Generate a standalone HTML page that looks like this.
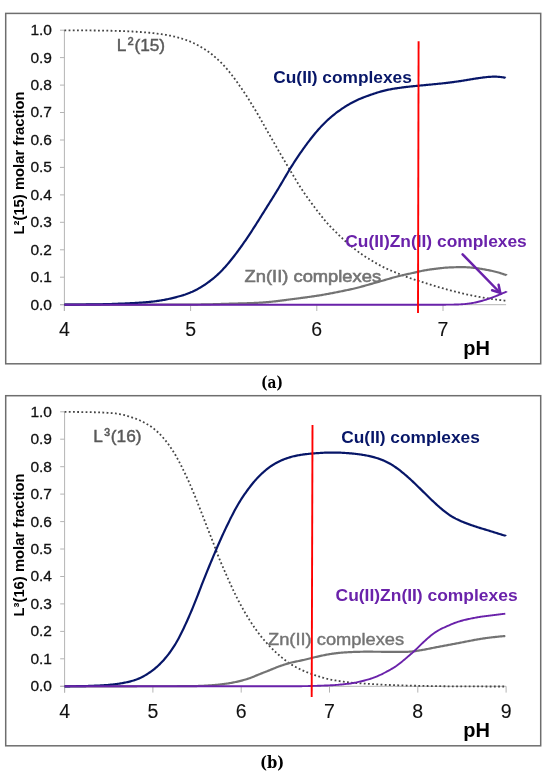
<!DOCTYPE html>
<html><head><meta charset="utf-8"><title>Molar fraction charts</title><style>
html,body{margin:0;padding:0;background:#fff;}
body{width:550px;height:780px;overflow:hidden;}
svg{display:block;}
text{font-family:"Liberation Sans",Arial,sans-serif;}
.yt{font-size:15.5px;fill:#111;stroke:#111;stroke-width:0.3px;}
.xt{font-size:19.5px;fill:#111;stroke:#111;stroke-width:0.1px;}
.lab{font-size:17.1px;font-weight:bold;}
.labm{font-size:16.8px;stroke-width:0.6px;}
.labr{font-size:16.8px;stroke-width:0.4px;}
.lbl{font-size:17.3px;fill:#595959;stroke:#595959;stroke-width:0.45px;}
.sups{font-size:10px;}
.ph{font-size:20px;font-weight:bold;fill:#000;}
.yti{font-size:14.8px;font-weight:bold;fill:#000;}
.cap{font-family:"DejaVu Serif","Liberation Serif",serif;font-size:16.3px;font-weight:bold;fill:#000;}
</style></head>
<body>
<svg width="550" height="780" viewBox="0 0 550 780">
<rect x="5.7" y="13.4" width="535" height="350.4" fill="none" stroke="#6e6e6e" stroke-width="1.5"/>
<rect x="5.7" y="395.7" width="535" height="350.1" fill="none" stroke="#6e6e6e" stroke-width="1.5"/>
<line x1="64.4" y1="30.2" x2="64.4" y2="311.0" stroke="#b4b4b4" stroke-width="1"/>
<line x1="60.0" y1="304.7" x2="506.1" y2="304.7" stroke="#b4b4b4" stroke-width="1"/>
<line x1="60.0" y1="304.7" x2="64.4" y2="304.7" stroke="#b4b4b4" stroke-width="1"/>
<text x="52.0" y="309.6" text-anchor="end" class="yt">0.0</text>
<line x1="60.0" y1="277.2" x2="64.4" y2="277.2" stroke="#b4b4b4" stroke-width="1"/>
<text x="52.0" y="282.1" text-anchor="end" class="yt">0.1</text>
<line x1="60.0" y1="249.8" x2="64.4" y2="249.8" stroke="#b4b4b4" stroke-width="1"/>
<text x="52.0" y="254.7" text-anchor="end" class="yt">0.2</text>
<line x1="60.0" y1="222.3" x2="64.4" y2="222.3" stroke="#b4b4b4" stroke-width="1"/>
<text x="52.0" y="227.2" text-anchor="end" class="yt">0.3</text>
<line x1="60.0" y1="194.9" x2="64.4" y2="194.9" stroke="#b4b4b4" stroke-width="1"/>
<text x="52.0" y="199.8" text-anchor="end" class="yt">0.4</text>
<line x1="60.0" y1="167.4" x2="64.4" y2="167.4" stroke="#b4b4b4" stroke-width="1"/>
<text x="52.0" y="172.3" text-anchor="end" class="yt">0.5</text>
<line x1="60.0" y1="140.0" x2="64.4" y2="140.0" stroke="#b4b4b4" stroke-width="1"/>
<text x="52.0" y="144.9" text-anchor="end" class="yt">0.6</text>
<line x1="60.0" y1="112.5" x2="64.4" y2="112.5" stroke="#b4b4b4" stroke-width="1"/>
<text x="52.0" y="117.4" text-anchor="end" class="yt">0.7</text>
<line x1="60.0" y1="85.1" x2="64.4" y2="85.1" stroke="#b4b4b4" stroke-width="1"/>
<text x="52.0" y="90.0" text-anchor="end" class="yt">0.8</text>
<line x1="60.0" y1="57.6" x2="64.4" y2="57.6" stroke="#b4b4b4" stroke-width="1"/>
<text x="52.0" y="62.5" text-anchor="end" class="yt">0.9</text>
<line x1="60.0" y1="30.2" x2="64.4" y2="30.2" stroke="#b4b4b4" stroke-width="1"/>
<text x="52.0" y="35.1" text-anchor="end" class="yt">1.0</text>
<line x1="64.4" y1="304.7" x2="64.4" y2="311.0" stroke="#b4b4b4" stroke-width="1"/>
<text x="64.4" y="336.0" text-anchor="middle" class="xt">4</text>
<line x1="190.6" y1="304.7" x2="190.6" y2="311.0" stroke="#b4b4b4" stroke-width="1"/>
<text x="190.6" y="336.0" text-anchor="middle" class="xt">5</text>
<line x1="316.8" y1="304.7" x2="316.8" y2="311.0" stroke="#b4b4b4" stroke-width="1"/>
<text x="316.8" y="336.0" text-anchor="middle" class="xt">6</text>
<line x1="443.0" y1="304.7" x2="443.0" y2="311.0" stroke="#b4b4b4" stroke-width="1"/>
<text x="443.0" y="336.0" text-anchor="middle" class="xt">7</text>
<line x1="64.6" y1="411.8" x2="64.6" y2="692.6" stroke="#b4b4b4" stroke-width="1"/>
<line x1="60.2" y1="686.3" x2="506.1" y2="686.3" stroke="#b4b4b4" stroke-width="1"/>
<line x1="60.2" y1="686.3" x2="64.6" y2="686.3" stroke="#b4b4b4" stroke-width="1"/>
<text x="52.0" y="691.2" text-anchor="end" class="yt">0.0</text>
<line x1="60.2" y1="658.8" x2="64.6" y2="658.8" stroke="#b4b4b4" stroke-width="1"/>
<text x="52.0" y="663.7" text-anchor="end" class="yt">0.1</text>
<line x1="60.2" y1="631.4" x2="64.6" y2="631.4" stroke="#b4b4b4" stroke-width="1"/>
<text x="52.0" y="636.3" text-anchor="end" class="yt">0.2</text>
<line x1="60.2" y1="603.9" x2="64.6" y2="603.9" stroke="#b4b4b4" stroke-width="1"/>
<text x="52.0" y="608.8" text-anchor="end" class="yt">0.3</text>
<line x1="60.2" y1="576.5" x2="64.6" y2="576.5" stroke="#b4b4b4" stroke-width="1"/>
<text x="52.0" y="581.4" text-anchor="end" class="yt">0.4</text>
<line x1="60.2" y1="549.0" x2="64.6" y2="549.0" stroke="#b4b4b4" stroke-width="1"/>
<text x="52.0" y="553.9" text-anchor="end" class="yt">0.5</text>
<line x1="60.2" y1="521.6" x2="64.6" y2="521.6" stroke="#b4b4b4" stroke-width="1"/>
<text x="52.0" y="526.5" text-anchor="end" class="yt">0.6</text>
<line x1="60.2" y1="494.1" x2="64.6" y2="494.1" stroke="#b4b4b4" stroke-width="1"/>
<text x="52.0" y="499.0" text-anchor="end" class="yt">0.7</text>
<line x1="60.2" y1="466.7" x2="64.6" y2="466.7" stroke="#b4b4b4" stroke-width="1"/>
<text x="52.0" y="471.6" text-anchor="end" class="yt">0.8</text>
<line x1="60.2" y1="439.2" x2="64.6" y2="439.2" stroke="#b4b4b4" stroke-width="1"/>
<text x="52.0" y="444.1" text-anchor="end" class="yt">0.9</text>
<line x1="60.2" y1="411.8" x2="64.6" y2="411.8" stroke="#b4b4b4" stroke-width="1"/>
<text x="52.0" y="416.7" text-anchor="end" class="yt">1.0</text>
<line x1="64.6" y1="686.3" x2="64.6" y2="692.6" stroke="#b4b4b4" stroke-width="1"/>
<text x="64.6" y="717.7" text-anchor="middle" class="xt">4</text>
<line x1="152.9" y1="686.3" x2="152.9" y2="692.6" stroke="#b4b4b4" stroke-width="1"/>
<text x="152.9" y="717.7" text-anchor="middle" class="xt">5</text>
<line x1="241.2" y1="686.3" x2="241.2" y2="692.6" stroke="#b4b4b4" stroke-width="1"/>
<text x="241.2" y="717.7" text-anchor="middle" class="xt">6</text>
<line x1="329.5" y1="686.3" x2="329.5" y2="692.6" stroke="#b4b4b4" stroke-width="1"/>
<text x="329.5" y="717.7" text-anchor="middle" class="xt">7</text>
<line x1="417.8" y1="686.3" x2="417.8" y2="692.6" stroke="#b4b4b4" stroke-width="1"/>
<text x="417.8" y="717.7" text-anchor="middle" class="xt">8</text>
<line x1="506.1" y1="686.3" x2="506.1" y2="692.6" stroke="#b4b4b4" stroke-width="1"/>
<text x="506.1" y="717.7" text-anchor="middle" class="xt">9</text>
<path d="M64.4,30.40 L65.4,30.40 L66.4,30.40 L67.4,30.40 L68.4,30.40 L69.4,30.40 L70.4,30.41 L71.4,30.41 L72.4,30.41 L73.4,30.41 L74.4,30.41 L75.4,30.42 L76.4,30.42 L77.4,30.42 L78.4,30.42 L79.4,30.43 L80.4,30.43 L81.4,30.43 L82.4,30.44 L83.4,30.44 L84.4,30.45 L85.4,30.45 L86.4,30.45 L87.4,30.46 L88.4,30.46 L89.4,30.47 L90.4,30.47 L91.4,30.48 L92.4,30.48 L93.4,30.49 L94.4,30.50 L95.4,30.50 L96.4,30.51 L97.4,30.52 L98.4,30.53 L99.4,30.54 L100.4,30.55 L101.4,30.57 L102.4,30.58 L103.4,30.60 L104.4,30.62 L105.4,30.64 L106.4,30.66 L107.4,30.68 L108.4,30.70 L109.4,30.72 L110.4,30.75 L111.4,30.77 L112.4,30.79 L113.4,30.82 L114.4,30.84 L115.4,30.87 L116.4,30.89 L117.4,30.92 L118.4,30.95 L119.4,30.98 L120.4,31.00 L121.4,31.04 L122.4,31.07 L123.4,31.10 L124.4,31.14 L125.4,31.17 L126.4,31.21 L127.4,31.25 L128.4,31.29 L129.4,31.34 L130.4,31.38 L131.4,31.43 L132.4,31.49 L133.4,31.54 L134.4,31.60 L135.4,31.66 L136.4,31.73 L137.4,31.79 L138.4,31.86 L139.4,31.94 L140.4,32.01 L141.4,32.08 L142.4,32.16 L143.4,32.23 L144.4,32.31 L145.4,32.39 L146.4,32.47 L147.4,32.55 L148.4,32.64 L149.4,32.73 L150.4,32.83 L151.4,32.93 L152.4,33.04 L153.4,33.15 L154.4,33.27 L155.4,33.39 L156.4,33.51 L157.4,33.64 L158.4,33.77 L159.4,33.90 L160.4,34.03 L161.4,34.17 L162.4,34.31 L163.4,34.47 L164.4,34.63 L165.4,34.80 L166.4,34.97 L167.4,35.15 L168.4,35.33 L169.4,35.52 L170.4,35.71 L171.4,35.90 L172.4,36.11 L173.4,36.32 L174.4,36.55 L175.4,36.80 L176.4,37.05 L177.4,37.32 L178.4,37.60 L179.4,37.89 L180.4,38.18 L181.4,38.48 L182.4,38.79 L183.4,39.10 L184.4,39.43 L185.4,39.76 L186.4,40.11 L187.4,40.47 L188.4,40.84 L189.4,41.23 L190.4,41.64 L191.4,42.06 L192.4,42.50 L193.4,42.97 L194.4,43.45 L195.4,43.96 L196.4,44.48 L197.4,45.02 L198.4,45.57 L199.4,46.13 L200.4,46.70 L201.4,47.29 L202.4,47.88 L203.4,48.48 L204.4,49.10 L205.4,49.73 L206.4,50.38 L207.4,51.05 L208.4,51.74 L209.4,52.45 L210.4,53.20 L211.4,53.98 L212.4,54.78 L213.4,55.61 L214.4,56.47 L215.4,57.34 L216.4,58.23 L217.4,59.14 L218.4,60.06 L219.4,61.00 L220.4,61.96 L221.4,62.95 L222.4,63.96 L223.4,65.00 L224.4,66.08 L225.4,67.19 L226.4,68.34 L227.4,69.51 L228.4,70.72 L229.4,71.95 L230.4,73.20 L231.4,74.48 L232.4,75.77 L233.4,77.08 L234.4,78.41 L235.4,79.77 L236.4,81.16 L237.4,82.57 L238.4,84.00 L239.4,85.45 L240.4,86.90 L241.4,88.35 L242.4,89.79 L243.4,91.23 L244.4,92.69 L245.4,94.17 L246.4,95.69 L247.4,97.24 L248.4,98.83 L249.4,100.45 L250.4,102.08 L251.4,103.72 L252.4,105.35 L253.4,106.98 L254.4,108.61 L255.4,110.25 L256.4,111.90 L257.4,113.58 L258.4,115.29 L259.4,117.03 L260.4,118.79 L261.4,120.58 L262.4,122.37 L263.4,124.17 L264.4,125.96 L265.4,127.74 L266.4,129.50 L267.4,131.24 L268.4,132.97 L269.4,134.69 L270.4,136.40 L271.4,138.13 L272.4,139.85 L273.4,141.59 L274.4,143.33 L275.4,145.08 L276.4,146.83 L277.4,148.58 L278.4,150.34 L279.4,152.09 L280.4,153.83 L281.4,155.55 L282.4,157.27 L283.4,158.97 L284.4,160.66 L285.4,162.34 L286.4,164.02 L287.4,165.69 L288.4,167.37 L289.4,169.05 L290.4,170.73 L291.4,172.42 L292.4,174.12 L293.4,175.80 L294.4,177.49 L295.4,179.16 L296.4,180.81 L297.4,182.44 L298.4,184.06 L299.4,185.65 L300.4,187.21 L301.4,188.76 L302.4,190.27 L303.4,191.77 L304.4,193.25 L305.4,194.70 L306.4,196.14 L307.4,197.56 L308.4,198.96 L309.4,200.34 L310.4,201.71 L311.4,203.06 L312.4,204.40 L313.4,205.73 L314.4,207.05 L315.4,208.36 L316.4,209.66 L317.4,210.96 L318.4,212.26 L319.4,213.55 L320.4,214.83 L321.4,216.11 L322.4,217.37 L323.4,218.61 L324.4,219.84 L325.4,221.04 L326.4,222.21 L327.4,223.35 L328.4,224.46 L329.4,225.55 L330.4,226.60 L331.4,227.63 L332.4,228.64 L333.4,229.64 L334.4,230.62 L335.4,231.60 L336.4,232.58 L337.4,233.56 L338.4,234.54 L339.4,235.52 L340.4,236.50 L341.4,237.47 L342.4,238.43 L343.4,239.38 L344.4,240.31 L345.4,241.22 L346.4,242.12 L347.4,243.00 L348.4,243.87 L349.4,244.72 L350.4,245.56 L351.4,246.39 L352.4,247.21 L353.4,248.02 L354.4,248.82 L355.4,249.60 L356.4,250.38 L357.4,251.14 L358.4,251.89 L359.4,252.62 L360.4,253.34 L361.4,254.04 L362.4,254.72 L363.4,255.39 L364.4,256.05 L365.4,256.69 L366.4,257.32 L367.4,257.95 L368.4,258.57 L369.4,259.18 L370.4,259.79 L371.4,260.40 L372.4,261.01 L373.4,261.60 L374.4,262.20 L375.4,262.78 L376.4,263.36 L377.4,263.93 L378.4,264.49 L379.4,265.05 L380.4,265.59 L381.4,266.12 L382.4,266.63 L383.4,267.14 L384.4,267.63 L385.4,268.11 L386.4,268.58 L387.4,269.04 L388.4,269.48 L389.4,269.92 L390.4,270.35 L391.4,270.77 L392.4,271.19 L393.4,271.59 L394.4,272.00 L395.4,272.40 L396.4,272.80 L397.4,273.20 L398.4,273.60 L399.4,274.01 L400.4,274.42 L401.4,274.82 L402.4,275.23 L403.4,275.63 L404.4,276.03 L405.4,276.42 L406.4,276.81 L407.4,277.19 L408.4,277.56 L409.4,277.92 L410.4,278.27 L411.4,278.62 L412.4,278.96 L413.4,279.29 L414.4,279.62 L415.4,279.94 L416.4,280.25 L417.4,280.56 L418.4,280.88 L419.4,281.19 L420.4,281.50 L421.4,281.81 L422.4,282.12 L423.4,282.44 L424.4,282.75 L425.4,283.06 L426.4,283.38 L427.4,283.69 L428.4,284.00 L429.4,284.31 L430.4,284.61 L431.4,284.92 L432.4,285.22 L433.4,285.53 L434.4,285.83 L435.4,286.13 L436.4,286.43 L437.4,286.73 L438.4,287.03 L439.4,287.33 L440.4,287.62 L441.4,287.92 L442.4,288.21 L443.4,288.49 L444.4,288.78 L445.4,289.06 L446.4,289.34 L447.4,289.62 L448.4,289.89 L449.4,290.16 L450.4,290.42 L451.4,290.69 L452.4,290.95 L453.4,291.20 L454.4,291.46 L455.4,291.71 L456.4,291.96 L457.4,292.21 L458.4,292.45 L459.4,292.69 L460.4,292.93 L461.4,293.17 L462.4,293.40 L463.4,293.63 L464.4,293.86 L465.4,294.08 L466.4,294.30 L467.4,294.52 L468.4,294.74 L469.4,294.95 L470.4,295.17 L471.4,295.38 L472.4,295.59 L473.4,295.79 L474.4,296.00 L475.4,296.20 L476.4,296.40 L477.4,296.59 L478.4,296.78 L479.4,296.97 L480.4,297.15 L481.4,297.32 L482.4,297.50 L483.4,297.67 L484.4,297.83 L485.4,298.00 L486.4,298.15 L487.4,298.31 L488.4,298.46 L489.4,298.62 L490.4,298.77 L491.4,298.91 L492.4,299.06 L493.4,299.20 L494.4,299.34 L495.4,299.47 L496.4,299.61 L497.4,299.74 L498.4,299.87 L499.4,299.99 L500.4,300.11 L501.4,300.23 L502.4,300.34 L503.4,300.44 L504.4,300.54 L505.4,300.63 L506.4,300.72 L506.5,300.80" fill="none" stroke="#454545" stroke-width="1.8" stroke-linejoin="round" stroke-dasharray="1.8 2.4"/>
<path d="M64.4,304.70 L65.4,304.70 L66.4,304.70 L67.4,304.70 L68.4,304.70 L69.4,304.70 L70.4,304.70 L71.4,304.70 L72.4,304.70 L73.4,304.70 L74.4,304.70 L75.4,304.70 L76.4,304.70 L77.4,304.70 L78.4,304.70 L79.4,304.70 L80.4,304.70 L81.4,304.70 L82.4,304.70 L83.4,304.70 L84.4,304.70 L85.4,304.70 L86.4,304.70 L87.4,304.70 L88.4,304.70 L89.4,304.70 L90.4,304.70 L91.4,304.70 L92.4,304.70 L93.4,304.70 L94.4,304.70 L95.4,304.70 L96.4,304.70 L97.4,304.70 L98.4,304.70 L99.4,304.70 L100.4,304.70 L101.4,304.70 L102.4,304.70 L103.4,304.70 L104.4,304.70 L105.4,304.70 L106.4,304.70 L107.4,304.70 L108.4,304.70 L109.4,304.70 L110.4,304.70 L111.4,304.70 L112.4,304.70 L113.4,304.70 L114.4,304.70 L115.4,304.70 L116.4,304.70 L117.4,304.70 L118.4,304.70 L119.4,304.70 L120.4,304.70 L121.4,304.70 L122.4,304.70 L123.4,304.70 L124.4,304.70 L125.4,304.70 L126.4,304.70 L127.4,304.70 L128.4,304.70 L129.4,304.70 L130.4,304.70 L131.4,304.70 L132.4,304.70 L133.4,304.70 L134.4,304.70 L135.4,304.70 L136.4,304.70 L137.4,304.70 L138.4,304.70 L139.4,304.70 L140.4,304.70 L141.4,304.70 L142.4,304.70 L143.4,304.70 L144.4,304.70 L145.4,304.70 L146.4,304.70 L147.4,304.70 L148.4,304.70 L149.4,304.70 L150.4,304.70 L151.4,304.70 L152.4,304.70 L153.4,304.70 L154.4,304.70 L155.4,304.70 L156.4,304.70 L157.4,304.70 L158.4,304.70 L159.4,304.70 L160.4,304.70 L161.4,304.70 L162.4,304.70 L163.4,304.70 L164.4,304.70 L165.4,304.70 L166.4,304.70 L167.4,304.70 L168.4,304.70 L169.4,304.70 L170.4,304.70 L171.4,304.70 L172.4,304.70 L173.4,304.70 L174.4,304.70 L175.4,304.70 L176.4,304.70 L177.4,304.70 L178.4,304.70 L179.4,304.70 L180.4,304.70 L181.4,304.69 L182.4,304.69 L183.4,304.69 L184.4,304.68 L185.4,304.67 L186.4,304.67 L187.4,304.66 L188.4,304.65 L189.4,304.64 L190.4,304.63 L191.4,304.62 L192.4,304.60 L193.4,304.59 L194.4,304.58 L195.4,304.56 L196.4,304.55 L197.4,304.54 L198.4,304.52 L199.4,304.51 L200.4,304.49 L201.4,304.47 L202.4,304.46 L203.4,304.44 L204.4,304.42 L205.4,304.40 L206.4,304.38 L207.4,304.35 L208.4,304.33 L209.4,304.31 L210.4,304.28 L211.4,304.26 L212.4,304.23 L213.4,304.20 L214.4,304.17 L215.4,304.14 L216.4,304.12 L217.4,304.09 L218.4,304.06 L219.4,304.03 L220.4,303.99 L221.4,303.96 L222.4,303.93 L223.4,303.90 L224.4,303.87 L225.4,303.84 L226.4,303.81 L227.4,303.78 L228.4,303.75 L229.4,303.72 L230.4,303.69 L231.4,303.66 L232.4,303.63 L233.4,303.60 L234.4,303.58 L235.4,303.55 L236.4,303.52 L237.4,303.49 L238.4,303.47 L239.4,303.44 L240.4,303.41 L241.4,303.38 L242.4,303.35 L243.4,303.33 L244.4,303.30 L245.4,303.27 L246.4,303.23 L247.4,303.20 L248.4,303.17 L249.4,303.14 L250.4,303.10 L251.4,303.07 L252.4,303.03 L253.4,302.99 L254.4,302.95 L255.4,302.91 L256.4,302.86 L257.4,302.82 L258.4,302.77 L259.4,302.71 L260.4,302.66 L261.4,302.60 L262.4,302.53 L263.4,302.46 L264.4,302.38 L265.4,302.30 L266.4,302.21 L267.4,302.12 L268.4,302.03 L269.4,301.93 L270.4,301.83 L271.4,301.73 L272.4,301.63 L273.4,301.52 L274.4,301.41 L275.4,301.30 L276.4,301.19 L277.4,301.07 L278.4,300.95 L279.4,300.83 L280.4,300.70 L281.4,300.57 L282.4,300.44 L283.4,300.31 L284.4,300.18 L285.4,300.04 L286.4,299.91 L287.4,299.77 L288.4,299.64 L289.4,299.50 L290.4,299.37 L291.4,299.24 L292.4,299.11 L293.4,298.98 L294.4,298.86 L295.4,298.73 L296.4,298.60 L297.4,298.47 L298.4,298.35 L299.4,298.22 L300.4,298.09 L301.4,297.96 L302.4,297.83 L303.4,297.70 L304.4,297.56 L305.4,297.43 L306.4,297.29 L307.4,297.16 L308.4,297.02 L309.4,296.88 L310.4,296.73 L311.4,296.59 L312.4,296.45 L313.4,296.30 L314.4,296.15 L315.4,296.00 L316.4,295.85 L317.4,295.69 L318.4,295.54 L319.4,295.38 L320.4,295.22 L321.4,295.05 L322.4,294.89 L323.4,294.71 L324.4,294.54 L325.4,294.36 L326.4,294.19 L327.4,294.00 L328.4,293.82 L329.4,293.63 L330.4,293.44 L331.4,293.25 L332.4,293.06 L333.4,292.86 L334.4,292.67 L335.4,292.47 L336.4,292.27 L337.4,292.07 L338.4,291.87 L339.4,291.67 L340.4,291.46 L341.4,291.25 L342.4,291.05 L343.4,290.84 L344.4,290.63 L345.4,290.42 L346.4,290.22 L347.4,290.01 L348.4,289.80 L349.4,289.59 L350.4,289.38 L351.4,289.17 L352.4,288.95 L353.4,288.72 L354.4,288.49 L355.4,288.25 L356.4,288.00 L357.4,287.75 L358.4,287.49 L359.4,287.22 L360.4,286.95 L361.4,286.68 L362.4,286.40 L363.4,286.12 L364.4,285.83 L365.4,285.55 L366.4,285.27 L367.4,284.98 L368.4,284.70 L369.4,284.42 L370.4,284.14 L371.4,283.86 L372.4,283.57 L373.4,283.29 L374.4,283.01 L375.4,282.73 L376.4,282.45 L377.4,282.16 L378.4,281.88 L379.4,281.59 L380.4,281.31 L381.4,281.02 L382.4,280.74 L383.4,280.45 L384.4,280.16 L385.4,279.87 L386.4,279.57 L387.4,279.28 L388.4,278.98 L389.4,278.69 L390.4,278.39 L391.4,278.10 L392.4,277.81 L393.4,277.52 L394.4,277.24 L395.4,276.97 L396.4,276.70 L397.4,276.44 L398.4,276.19 L399.4,275.94 L400.4,275.70 L401.4,275.46 L402.4,275.24 L403.4,275.01 L404.4,274.79 L405.4,274.57 L406.4,274.36 L407.4,274.14 L408.4,273.93 L409.4,273.71 L410.4,273.49 L411.4,273.27 L412.4,273.05 L413.4,272.82 L414.4,272.59 L415.4,272.35 L416.4,272.12 L417.4,271.88 L418.4,271.65 L419.4,271.42 L420.4,271.20 L421.4,270.99 L422.4,270.78 L423.4,270.59 L424.4,270.40 L425.4,270.23 L426.4,270.06 L427.4,269.90 L428.4,269.75 L429.4,269.61 L430.4,269.46 L431.4,269.33 L432.4,269.19 L433.4,269.06 L434.4,268.93 L435.4,268.80 L436.4,268.67 L437.4,268.55 L438.4,268.42 L439.4,268.30 L440.4,268.19 L441.4,268.07 L442.4,267.97 L443.4,267.87 L444.4,267.77 L445.4,267.69 L446.4,267.61 L447.4,267.55 L448.4,267.49 L449.4,267.43 L450.4,267.39 L451.4,267.35 L452.4,267.31 L453.4,267.28 L454.4,267.25 L455.4,267.23 L456.4,267.20 L457.4,267.18 L458.4,267.16 L459.4,267.15 L460.4,267.14 L461.4,267.13 L462.4,267.14 L463.4,267.15 L464.4,267.17 L465.4,267.20 L466.4,267.24 L467.4,267.29 L468.4,267.36 L469.4,267.43 L470.4,267.52 L471.4,267.61 L472.4,267.70 L473.4,267.81 L474.4,267.92 L475.4,268.03 L476.4,268.15 L477.4,268.28 L478.4,268.42 L479.4,268.57 L480.4,268.73 L481.4,268.89 L482.4,269.06 L483.4,269.24 L484.4,269.42 L485.4,269.61 L486.4,269.80 L487.4,269.99 L488.4,270.18 L489.4,270.38 L490.4,270.59 L491.4,270.79 L492.4,271.01 L493.4,271.23 L494.4,271.47 L495.4,271.71 L496.4,271.97 L497.4,272.24 L498.4,272.52 L499.4,272.82 L500.4,273.14 L501.4,273.47 L502.4,273.80 L503.4,274.14 L504.4,274.47 L505.4,274.79 L506.4,275.10 L506.5,275.40" fill="none" stroke="#737373" stroke-width="2.2" stroke-linejoin="round"/>
<path d="M64.4,304.60 L65.4,304.60 L66.4,304.60 L67.4,304.59 L68.4,304.59 L69.4,304.59 L70.4,304.58 L71.4,304.58 L72.4,304.58 L73.4,304.57 L74.4,304.57 L75.4,304.56 L76.4,304.55 L77.4,304.55 L78.4,304.54 L79.4,304.53 L80.4,304.52 L81.4,304.52 L82.4,304.51 L83.4,304.50 L84.4,304.49 L85.4,304.48 L86.4,304.47 L87.4,304.46 L88.4,304.45 L89.4,304.44 L90.4,304.42 L91.4,304.41 L92.4,304.40 L93.4,304.39 L94.4,304.37 L95.4,304.36 L96.4,304.34 L97.4,304.33 L98.4,304.31 L99.4,304.30 L100.4,304.28 L101.4,304.26 L102.4,304.24 L103.4,304.21 L104.4,304.19 L105.4,304.16 L106.4,304.13 L107.4,304.11 L108.4,304.07 L109.4,304.04 L110.4,304.01 L111.4,303.98 L112.4,303.94 L113.4,303.91 L114.4,303.87 L115.4,303.83 L116.4,303.80 L117.4,303.76 L118.4,303.72 L119.4,303.68 L120.4,303.64 L121.4,303.60 L122.4,303.56 L123.4,303.52 L124.4,303.48 L125.4,303.44 L126.4,303.39 L127.4,303.35 L128.4,303.30 L129.4,303.25 L130.4,303.20 L131.4,303.15 L132.4,303.10 L133.4,303.05 L134.4,303.00 L135.4,302.94 L136.4,302.88 L137.4,302.83 L138.4,302.77 L139.4,302.70 L140.4,302.64 L141.4,302.57 L142.4,302.50 L143.4,302.43 L144.4,302.35 L145.4,302.28 L146.4,302.19 L147.4,302.11 L148.4,302.02 L149.4,301.92 L150.4,301.82 L151.4,301.71 L152.4,301.60 L153.4,301.49 L154.4,301.36 L155.4,301.24 L156.4,301.10 L157.4,300.96 L158.4,300.82 L159.4,300.67 L160.4,300.51 L161.4,300.35 L162.4,300.18 L163.4,300.00 L164.4,299.82 L165.4,299.63 L166.4,299.43 L167.4,299.23 L168.4,299.01 L169.4,298.79 L170.4,298.56 L171.4,298.33 L172.4,298.08 L173.4,297.84 L174.4,297.58 L175.4,297.33 L176.4,297.07 L177.4,296.81 L178.4,296.54 L179.4,296.27 L180.4,295.99 L181.4,295.71 L182.4,295.41 L183.4,295.11 L184.4,294.78 L185.4,294.45 L186.4,294.09 L187.4,293.72 L188.4,293.34 L189.4,292.94 L190.4,292.52 L191.4,292.08 L192.4,291.64 L193.4,291.17 L194.4,290.69 L195.4,290.20 L196.4,289.69 L197.4,289.17 L198.4,288.62 L199.4,288.06 L200.4,287.49 L201.4,286.89 L202.4,286.28 L203.4,285.65 L204.4,285.00 L205.4,284.33 L206.4,283.65 L207.4,282.95 L208.4,282.23 L209.4,281.50 L210.4,280.74 L211.4,279.97 L212.4,279.17 L213.4,278.36 L214.4,277.52 L215.4,276.65 L216.4,275.77 L217.4,274.86 L218.4,273.92 L219.4,272.97 L220.4,271.98 L221.4,270.97 L222.4,269.93 L223.4,268.87 L224.4,267.78 L225.4,266.67 L226.4,265.53 L227.4,264.37 L228.4,263.19 L229.4,261.99 L230.4,260.77 L231.4,259.53 L232.4,258.28 L233.4,257.00 L234.4,255.71 L235.4,254.41 L236.4,253.08 L237.4,251.74 L238.4,250.39 L239.4,249.02 L240.4,247.63 L241.4,246.24 L242.4,244.82 L243.4,243.40 L244.4,241.96 L245.4,240.51 L246.4,239.05 L247.4,237.57 L248.4,236.08 L249.4,234.58 L250.4,233.06 L251.4,231.54 L252.4,230.00 L253.4,228.45 L254.4,226.89 L255.4,225.32 L256.4,223.75 L257.4,222.16 L258.4,220.57 L259.4,218.97 L260.4,217.37 L261.4,215.77 L262.4,214.17 L263.4,212.57 L264.4,210.97 L265.4,209.38 L266.4,207.79 L267.4,206.19 L268.4,204.61 L269.4,203.02 L270.4,201.43 L271.4,199.84 L272.4,198.24 L273.4,196.64 L274.4,195.03 L275.4,193.41 L276.4,191.77 L277.4,190.12 L278.4,188.46 L279.4,186.78 L280.4,185.09 L281.4,183.39 L282.4,181.69 L283.4,179.98 L284.4,178.27 L285.4,176.57 L286.4,174.88 L287.4,173.20 L288.4,171.54 L289.4,169.89 L290.4,168.26 L291.4,166.65 L292.4,165.06 L293.4,163.49 L294.4,161.94 L295.4,160.41 L296.4,158.89 L297.4,157.38 L298.4,155.90 L299.4,154.43 L300.4,152.97 L301.4,151.53 L302.4,150.11 L303.4,148.69 L304.4,147.30 L305.4,145.92 L306.4,144.55 L307.4,143.21 L308.4,141.87 L309.4,140.56 L310.4,139.26 L311.4,137.98 L312.4,136.72 L313.4,135.48 L314.4,134.26 L315.4,133.06 L316.4,131.88 L317.4,130.72 L318.4,129.59 L319.4,128.47 L320.4,127.38 L321.4,126.31 L322.4,125.25 L323.4,124.22 L324.4,123.21 L325.4,122.22 L326.4,121.25 L327.4,120.31 L328.4,119.38 L329.4,118.48 L330.4,117.60 L331.4,116.74 L332.4,115.90 L333.4,115.09 L334.4,114.28 L335.4,113.50 L336.4,112.73 L337.4,111.98 L338.4,111.25 L339.4,110.53 L340.4,109.82 L341.4,109.13 L342.4,108.46 L343.4,107.80 L344.4,107.15 L345.4,106.52 L346.4,105.91 L347.4,105.31 L348.4,104.72 L349.4,104.15 L350.4,103.58 L351.4,103.04 L352.4,102.50 L353.4,101.98 L354.4,101.47 L355.4,100.97 L356.4,100.49 L357.4,100.02 L358.4,99.57 L359.4,99.12 L360.4,98.69 L361.4,98.28 L362.4,97.87 L363.4,97.47 L364.4,97.09 L365.4,96.71 L366.4,96.34 L367.4,95.97 L368.4,95.61 L369.4,95.26 L370.4,94.91 L371.4,94.56 L372.4,94.22 L373.4,93.88 L374.4,93.54 L375.4,93.21 L376.4,92.89 L377.4,92.57 L378.4,92.26 L379.4,91.95 L380.4,91.66 L381.4,91.38 L382.4,91.11 L383.4,90.84 L384.4,90.59 L385.4,90.36 L386.4,90.13 L387.4,89.91 L388.4,89.70 L389.4,89.50 L390.4,89.31 L391.4,89.13 L392.4,88.95 L393.4,88.78 L394.4,88.61 L395.4,88.45 L396.4,88.30 L397.4,88.15 L398.4,88.00 L399.4,87.86 L400.4,87.72 L401.4,87.58 L402.4,87.45 L403.4,87.33 L404.4,87.20 L405.4,87.08 L406.4,86.96 L407.4,86.85 L408.4,86.74 L409.4,86.63 L410.4,86.52 L411.4,86.42 L412.4,86.31 L413.4,86.21 L414.4,86.11 L415.4,86.01 L416.4,85.92 L417.4,85.82 L418.4,85.72 L419.4,85.63 L420.4,85.53 L421.4,85.43 L422.4,85.34 L423.4,85.24 L424.4,85.15 L425.4,85.05 L426.4,84.96 L427.4,84.86 L428.4,84.76 L429.4,84.67 L430.4,84.57 L431.4,84.47 L432.4,84.38 L433.4,84.28 L434.4,84.18 L435.4,84.08 L436.4,83.98 L437.4,83.88 L438.4,83.78 L439.4,83.68 L440.4,83.58 L441.4,83.47 L442.4,83.37 L443.4,83.26 L444.4,83.15 L445.4,83.04 L446.4,82.92 L447.4,82.81 L448.4,82.69 L449.4,82.56 L450.4,82.44 L451.4,82.31 L452.4,82.18 L453.4,82.05 L454.4,81.91 L455.4,81.78 L456.4,81.64 L457.4,81.49 L458.4,81.35 L459.4,81.20 L460.4,81.05 L461.4,80.89 L462.4,80.74 L463.4,80.58 L464.4,80.42 L465.4,80.26 L466.4,80.10 L467.4,79.93 L468.4,79.77 L469.4,79.60 L470.4,79.43 L471.4,79.27 L472.4,79.10 L473.4,78.94 L474.4,78.78 L475.4,78.62 L476.4,78.46 L477.4,78.30 L478.4,78.15 L479.4,78.00 L480.4,77.86 L481.4,77.72 L482.4,77.59 L483.4,77.46 L484.4,77.34 L485.4,77.22 L486.4,77.11 L487.4,77.02 L488.4,76.93 L489.4,76.85 L490.4,76.78 L491.4,76.73 L492.4,76.69 L493.4,76.66 L494.4,76.65 L495.4,76.66 L496.4,76.69 L497.4,76.74 L498.4,76.80 L499.4,76.88 L500.4,76.99 L501.4,77.11 L502.4,77.25 L503.4,77.40 L504.4,77.56 L505.4,77.73 L505.6,77.90" fill="none" stroke="#071668" stroke-width="2.2" stroke-linejoin="round"/>
<path d="M64.4,304.70 L65.4,304.70 L66.4,304.70 L67.4,304.70 L68.4,304.70 L69.4,304.70 L70.4,304.70 L71.4,304.70 L72.4,304.70 L73.4,304.70 L74.4,304.70 L75.4,304.70 L76.4,304.70 L77.4,304.70 L78.4,304.70 L79.4,304.70 L80.4,304.70 L81.4,304.70 L82.4,304.70 L83.4,304.70 L84.4,304.70 L85.4,304.70 L86.4,304.70 L87.4,304.70 L88.4,304.70 L89.4,304.70 L90.4,304.70 L91.4,304.70 L92.4,304.70 L93.4,304.70 L94.4,304.70 L95.4,304.70 L96.4,304.70 L97.4,304.70 L98.4,304.70 L99.4,304.70 L100.4,304.70 L101.4,304.70 L102.4,304.70 L103.4,304.70 L104.4,304.70 L105.4,304.70 L106.4,304.70 L107.4,304.70 L108.4,304.70 L109.4,304.70 L110.4,304.70 L111.4,304.70 L112.4,304.70 L113.4,304.70 L114.4,304.70 L115.4,304.70 L116.4,304.70 L117.4,304.70 L118.4,304.70 L119.4,304.70 L120.4,304.70 L121.4,304.70 L122.4,304.70 L123.4,304.70 L124.4,304.70 L125.4,304.70 L126.4,304.70 L127.4,304.70 L128.4,304.70 L129.4,304.70 L130.4,304.70 L131.4,304.70 L132.4,304.70 L133.4,304.70 L134.4,304.70 L135.4,304.70 L136.4,304.70 L137.4,304.70 L138.4,304.70 L139.4,304.70 L140.4,304.70 L141.4,304.70 L142.4,304.70 L143.4,304.70 L144.4,304.70 L145.4,304.70 L146.4,304.70 L147.4,304.70 L148.4,304.70 L149.4,304.70 L150.4,304.70 L151.4,304.70 L152.4,304.70 L153.4,304.70 L154.4,304.70 L155.4,304.70 L156.4,304.70 L157.4,304.70 L158.4,304.70 L159.4,304.70 L160.4,304.70 L161.4,304.70 L162.4,304.70 L163.4,304.70 L164.4,304.70 L165.4,304.70 L166.4,304.70 L167.4,304.70 L168.4,304.70 L169.4,304.70 L170.4,304.70 L171.4,304.70 L172.4,304.70 L173.4,304.70 L174.4,304.70 L175.4,304.70 L176.4,304.70 L177.4,304.70 L178.4,304.70 L179.4,304.70 L180.4,304.70 L181.4,304.70 L182.4,304.70 L183.4,304.70 L184.4,304.70 L185.4,304.70 L186.4,304.70 L187.4,304.70 L188.4,304.70 L189.4,304.70 L190.4,304.70 L191.4,304.70 L192.4,304.70 L193.4,304.70 L194.4,304.70 L195.4,304.70 L196.4,304.70 L197.4,304.70 L198.4,304.70 L199.4,304.70 L200.4,304.70 L201.4,304.70 L202.4,304.70 L203.4,304.70 L204.4,304.70 L205.4,304.70 L206.4,304.70 L207.4,304.70 L208.4,304.70 L209.4,304.70 L210.4,304.70 L211.4,304.70 L212.4,304.70 L213.4,304.70 L214.4,304.70 L215.4,304.70 L216.4,304.70 L217.4,304.70 L218.4,304.70 L219.4,304.70 L220.4,304.70 L221.4,304.70 L222.4,304.70 L223.4,304.70 L224.4,304.70 L225.4,304.70 L226.4,304.70 L227.4,304.70 L228.4,304.70 L229.4,304.70 L230.4,304.70 L231.4,304.70 L232.4,304.70 L233.4,304.70 L234.4,304.70 L235.4,304.70 L236.4,304.70 L237.4,304.70 L238.4,304.70 L239.4,304.70 L240.4,304.70 L241.4,304.70 L242.4,304.70 L243.4,304.70 L244.4,304.70 L245.4,304.70 L246.4,304.70 L247.4,304.70 L248.4,304.70 L249.4,304.70 L250.4,304.70 L251.4,304.70 L252.4,304.70 L253.4,304.70 L254.4,304.70 L255.4,304.70 L256.4,304.70 L257.4,304.70 L258.4,304.70 L259.4,304.70 L260.4,304.70 L261.4,304.70 L262.4,304.70 L263.4,304.70 L264.4,304.70 L265.4,304.70 L266.4,304.70 L267.4,304.70 L268.4,304.70 L269.4,304.70 L270.4,304.70 L271.4,304.70 L272.4,304.70 L273.4,304.70 L274.4,304.70 L275.4,304.70 L276.4,304.70 L277.4,304.70 L278.4,304.70 L279.4,304.70 L280.4,304.70 L281.4,304.70 L282.4,304.70 L283.4,304.70 L284.4,304.70 L285.4,304.70 L286.4,304.70 L287.4,304.70 L288.4,304.70 L289.4,304.70 L290.4,304.70 L291.4,304.70 L292.4,304.70 L293.4,304.70 L294.4,304.70 L295.4,304.70 L296.4,304.70 L297.4,304.70 L298.4,304.70 L299.4,304.70 L300.4,304.70 L301.4,304.70 L302.4,304.70 L303.4,304.70 L304.4,304.70 L305.4,304.70 L306.4,304.70 L307.4,304.70 L308.4,304.70 L309.4,304.70 L310.4,304.70 L311.4,304.70 L312.4,304.70 L313.4,304.70 L314.4,304.70 L315.4,304.70 L316.4,304.70 L317.4,304.70 L318.4,304.70 L319.4,304.70 L320.4,304.70 L321.4,304.70 L322.4,304.70 L323.4,304.70 L324.4,304.70 L325.4,304.70 L326.4,304.70 L327.4,304.70 L328.4,304.70 L329.4,304.70 L330.4,304.70 L331.4,304.70 L332.4,304.70 L333.4,304.70 L334.4,304.70 L335.4,304.70 L336.4,304.70 L337.4,304.70 L338.4,304.70 L339.4,304.70 L340.4,304.70 L341.4,304.70 L342.4,304.70 L343.4,304.70 L344.4,304.70 L345.4,304.70 L346.4,304.70 L347.4,304.70 L348.4,304.70 L349.4,304.70 L350.4,304.70 L351.4,304.70 L352.4,304.70 L353.4,304.70 L354.4,304.70 L355.4,304.70 L356.4,304.70 L357.4,304.70 L358.4,304.70 L359.4,304.70 L360.4,304.70 L361.4,304.70 L362.4,304.70 L363.4,304.70 L364.4,304.70 L365.4,304.70 L366.4,304.70 L367.4,304.70 L368.4,304.70 L369.4,304.70 L370.4,304.70 L371.4,304.70 L372.4,304.70 L373.4,304.70 L374.4,304.70 L375.4,304.70 L376.4,304.70 L377.4,304.70 L378.4,304.70 L379.4,304.70 L380.4,304.70 L381.4,304.70 L382.4,304.70 L383.4,304.70 L384.4,304.70 L385.4,304.70 L386.4,304.70 L387.4,304.70 L388.4,304.70 L389.4,304.70 L390.4,304.70 L391.4,304.70 L392.4,304.70 L393.4,304.70 L394.4,304.70 L395.4,304.70 L396.4,304.70 L397.4,304.70 L398.4,304.70 L399.4,304.70 L400.4,304.70 L401.4,304.70 L402.4,304.70 L403.4,304.70 L404.4,304.70 L405.4,304.70 L406.4,304.70 L407.4,304.70 L408.4,304.70 L409.4,304.70 L410.4,304.70 L411.4,304.70 L412.4,304.70 L413.4,304.70 L414.4,304.70 L415.4,304.70 L416.4,304.70 L417.4,304.70 L418.4,304.70 L419.4,304.70 L420.4,304.70 L421.4,304.70 L422.4,304.70 L423.4,304.70 L424.4,304.70 L425.4,304.70 L426.4,304.70 L427.4,304.70 L428.4,304.70 L429.4,304.70 L430.4,304.70 L431.4,304.70 L432.4,304.70 L433.4,304.70 L434.4,304.70 L435.4,304.70 L436.4,304.70 L437.4,304.70 L438.4,304.70 L439.4,304.70 L440.4,304.70 L441.4,304.69 L442.4,304.69 L443.4,304.69 L444.4,304.68 L445.4,304.68 L446.4,304.67 L447.4,304.66 L448.4,304.65 L449.4,304.64 L450.4,304.63 L451.4,304.61 L452.4,304.60 L453.4,304.58 L454.4,304.56 L455.4,304.54 L456.4,304.52 L457.4,304.49 L458.4,304.46 L459.4,304.42 L460.4,304.37 L461.4,304.32 L462.4,304.25 L463.4,304.17 L464.4,304.09 L465.4,304.00 L466.4,303.89 L467.4,303.78 L468.4,303.65 L469.4,303.52 L470.4,303.37 L471.4,303.21 L472.4,303.03 L473.4,302.85 L474.4,302.66 L475.4,302.46 L476.4,302.24 L477.4,302.02 L478.4,301.79 L479.4,301.54 L480.4,301.29 L481.4,301.02 L482.4,300.74 L483.4,300.45 L484.4,300.15 L485.4,299.84 L486.4,299.52 L487.4,299.19 L488.4,298.84 L489.4,298.49 L490.4,298.13 L491.4,297.77 L492.4,297.41 L493.4,297.04 L494.4,296.66 L495.4,296.28 L496.4,295.90 L497.4,295.51 L498.4,295.10 L499.4,294.69 L500.4,294.27 L501.4,293.83 L502.4,293.39 L503.4,292.95 L504.4,292.52 L505.4,292.10 L506.4,291.70 L506.5,291.30" fill="none" stroke="#6a22aa" stroke-width="1.9" stroke-linejoin="round"/>
<path d="M64.6,411.90 L65.6,411.90 L66.6,411.90 L67.6,411.91 L68.6,411.91 L69.6,411.92 L70.6,411.92 L71.6,411.93 L72.6,411.93 L73.6,411.94 L74.6,411.95 L75.6,411.96 L76.6,411.97 L77.6,411.98 L78.6,411.99 L79.6,412.00 L80.6,412.02 L81.6,412.03 L82.6,412.05 L83.6,412.06 L84.6,412.08 L85.6,412.09 L86.6,412.11 L87.6,412.13 L88.6,412.15 L89.6,412.16 L90.6,412.18 L91.6,412.20 L92.6,412.22 L93.6,412.24 L94.6,412.27 L95.6,412.29 L96.6,412.31 L97.6,412.34 L98.6,412.37 L99.6,412.40 L100.6,412.44 L101.6,412.48 L102.6,412.52 L103.6,412.57 L104.6,412.62 L105.6,412.67 L106.6,412.73 L107.6,412.79 L108.6,412.86 L109.6,412.93 L110.6,413.00 L111.6,413.08 L112.6,413.17 L113.6,413.26 L114.6,413.37 L115.6,413.48 L116.6,413.61 L117.6,413.76 L118.6,413.92 L119.6,414.09 L120.6,414.28 L121.6,414.49 L122.6,414.70 L123.6,414.94 L124.6,415.19 L125.6,415.46 L126.6,415.74 L127.6,416.04 L128.6,416.35 L129.6,416.68 L130.6,417.00 L131.6,417.33 L132.6,417.66 L133.6,417.98 L134.6,418.32 L135.6,418.66 L136.6,419.03 L137.6,419.41 L138.6,419.83 L139.6,420.27 L140.6,420.73 L141.6,421.22 L142.6,421.73 L143.6,422.25 L144.6,422.78 L145.6,423.33 L146.6,423.89 L147.6,424.47 L148.6,425.07 L149.6,425.71 L150.6,426.37 L151.6,427.06 L152.6,427.79 L153.6,428.55 L154.6,429.35 L155.6,430.18 L156.6,431.06 L157.6,431.97 L158.6,432.92 L159.6,433.91 L160.6,434.94 L161.6,436.01 L162.6,437.11 L163.6,438.26 L164.6,439.44 L165.6,440.66 L166.6,441.93 L167.6,443.24 L168.6,444.58 L169.6,445.97 L170.6,447.40 L171.6,448.87 L172.6,450.39 L173.6,451.96 L174.6,453.60 L175.6,455.29 L176.6,457.04 L177.6,458.85 L178.6,460.71 L179.6,462.61 L180.6,464.54 L181.6,466.51 L182.6,468.51 L183.6,470.54 L184.6,472.60 L185.6,474.70 L186.6,476.83 L187.6,479.00 L188.6,481.21 L189.6,483.46 L190.6,485.75 L191.6,488.08 L192.6,490.45 L193.6,492.86 L194.6,495.30 L195.6,497.77 L196.6,500.27 L197.6,502.78 L198.6,505.30 L199.6,507.84 L200.6,510.38 L201.6,512.93 L202.6,515.50 L203.6,518.07 L204.6,520.65 L205.6,523.22 L206.6,525.79 L207.6,528.36 L208.6,530.90 L209.6,533.44 L210.6,535.98 L211.6,538.53 L212.6,541.11 L213.6,543.71 L214.6,546.35 L215.6,549.02 L216.6,551.68 L217.6,554.32 L218.6,556.90 L219.6,559.40 L220.6,561.82 L221.6,564.17 L222.6,566.47 L223.6,568.73 L224.6,570.99 L225.6,573.24 L226.6,575.51 L227.6,577.77 L228.6,580.03 L229.6,582.27 L230.6,584.49 L231.6,586.68 L232.6,588.83 L233.6,590.94 L234.6,593.03 L235.6,595.07 L236.6,597.08 L237.6,599.06 L238.6,601.01 L239.6,602.91 L240.6,604.78 L241.6,606.62 L242.6,608.42 L243.6,610.18 L244.6,611.91 L245.6,613.62 L246.6,615.29 L247.6,616.93 L248.6,618.55 L249.6,620.14 L250.6,621.70 L251.6,623.24 L252.6,624.76 L253.6,626.25 L254.6,627.71 L255.6,629.15 L256.6,630.55 L257.6,631.92 L258.6,633.26 L259.6,634.58 L260.6,635.86 L261.6,637.11 L262.6,638.33 L263.6,639.53 L264.6,640.69 L265.6,641.82 L266.6,642.92 L267.6,644.00 L268.6,645.07 L269.6,646.12 L270.6,647.15 L271.6,648.16 L272.6,649.16 L273.6,650.14 L274.6,651.10 L275.6,652.04 L276.6,652.97 L277.6,653.87 L278.6,654.76 L279.6,655.63 L280.6,656.49 L281.6,657.33 L282.6,658.16 L283.6,658.97 L284.6,659.76 L285.6,660.52 L286.6,661.27 L287.6,661.99 L288.6,662.69 L289.6,663.36 L290.6,664.00 L291.6,664.63 L292.6,665.24 L293.6,665.82 L294.6,666.39 L295.6,666.94 L296.6,667.48 L297.6,668.00 L298.6,668.50 L299.6,668.99 L300.6,669.46 L301.6,669.92 L302.6,670.37 L303.6,670.80 L304.6,671.23 L305.6,671.64 L306.6,672.05 L307.6,672.46 L308.6,672.86 L309.6,673.25 L310.6,673.64 L311.6,674.02 L312.6,674.39 L313.6,674.75 L314.6,675.09 L315.6,675.42 L316.6,675.74 L317.6,676.05 L318.6,676.35 L319.6,676.65 L320.6,676.95 L321.6,677.25 L322.6,677.55 L323.6,677.84 L324.6,678.13 L325.6,678.40 L326.6,678.67 L327.6,678.91 L328.6,679.15 L329.6,679.37 L330.6,679.58 L331.6,679.77 L332.6,679.96 L333.6,680.14 L334.6,680.31 L335.6,680.48 L336.6,680.64 L337.6,680.80 L338.6,680.95 L339.6,681.10 L340.6,681.25 L341.6,681.40 L342.6,681.54 L343.6,681.68 L344.6,681.82 L345.6,681.95 L346.6,682.09 L347.6,682.22 L348.6,682.34 L349.6,682.47 L350.6,682.58 L351.6,682.69 L352.6,682.78 L353.6,682.87 L354.6,682.96 L355.6,683.03 L356.6,683.10 L357.6,683.17 L358.6,683.23 L359.6,683.30 L360.6,683.36 L361.6,683.42 L362.6,683.48 L363.6,683.54 L364.6,683.61 L365.6,683.67 L366.6,683.74 L367.6,683.80 L368.6,683.87 L369.6,683.93 L370.6,684.00 L371.6,684.06 L372.6,684.13 L373.6,684.19 L374.6,684.25 L375.6,684.31 L376.6,684.37 L377.6,684.43 L378.6,684.48 L379.6,684.54 L380.6,684.59 L381.6,684.64 L382.6,684.69 L383.6,684.73 L384.6,684.78 L385.6,684.82 L386.6,684.86 L387.6,684.90 L388.6,684.94 L389.6,684.98 L390.6,685.02 L391.6,685.06 L392.6,685.10 L393.6,685.13 L394.6,685.17 L395.6,685.20 L396.6,685.23 L397.6,685.27 L398.6,685.30 L399.6,685.33 L400.6,685.36 L401.6,685.39 L402.6,685.42 L403.6,685.45 L404.6,685.48 L405.6,685.51 L406.6,685.54 L407.6,685.56 L408.6,685.59 L409.6,685.62 L410.6,685.64 L411.6,685.67 L412.6,685.69 L413.6,685.72 L414.6,685.74 L415.6,685.76 L416.6,685.79 L417.6,685.81 L418.6,685.83 L419.6,685.86 L420.6,685.88 L421.6,685.90 L422.6,685.92 L423.6,685.94 L424.6,685.96 L425.6,685.98 L426.6,686.00 L427.6,686.01 L428.6,686.03 L429.6,686.05 L430.6,686.07 L431.6,686.08 L432.6,686.10 L433.6,686.11 L434.6,686.13 L435.6,686.14 L436.6,686.16 L437.6,686.17 L438.6,686.18 L439.6,686.20 L440.6,686.21 L441.6,686.22 L442.6,686.24 L443.6,686.25 L444.6,686.26 L445.6,686.28 L446.6,686.29 L447.6,686.30 L448.6,686.31 L449.6,686.32 L450.6,686.33 L451.6,686.34 L452.6,686.35 L453.6,686.36 L454.6,686.37 L455.6,686.37 L456.6,686.38 L457.6,686.39 L458.6,686.39 L459.6,686.40 L460.6,686.40 L461.6,686.41 L462.6,686.41 L463.6,686.41 L464.6,686.42 L465.6,686.42 L466.6,686.42 L467.6,686.43 L468.6,686.43 L469.6,686.43 L470.6,686.44 L471.6,686.44 L472.6,686.44 L473.6,686.45 L474.6,686.45 L475.6,686.45 L476.6,686.46 L477.6,686.46 L478.6,686.46 L479.6,686.46 L480.6,686.47 L481.6,686.47 L482.6,686.47 L483.6,686.47 L484.6,686.48 L485.6,686.48 L486.6,686.48 L487.6,686.48 L488.6,686.48 L489.6,686.48 L490.6,686.49 L491.6,686.49 L492.6,686.49 L493.6,686.49 L494.6,686.49 L495.6,686.49 L496.6,686.49 L497.6,686.50 L498.6,686.50 L499.6,686.50 L500.6,686.50 L501.6,686.50 L502.6,686.50 L503.6,686.50 L504.6,686.50 L505.6,686.50 L506.0,686.50" fill="none" stroke="#454545" stroke-width="1.8" stroke-linejoin="round" stroke-dasharray="1.8 2.4"/>
<path d="M64.6,686.30 L65.6,686.30 L66.6,686.30 L67.6,686.30 L68.6,686.30 L69.6,686.30 L70.6,686.30 L71.6,686.30 L72.6,686.30 L73.6,686.30 L74.6,686.30 L75.6,686.30 L76.6,686.30 L77.6,686.30 L78.6,686.30 L79.6,686.30 L80.6,686.30 L81.6,686.30 L82.6,686.30 L83.6,686.30 L84.6,686.30 L85.6,686.30 L86.6,686.30 L87.6,686.30 L88.6,686.30 L89.6,686.30 L90.6,686.30 L91.6,686.30 L92.6,686.30 L93.6,686.30 L94.6,686.30 L95.6,686.30 L96.6,686.30 L97.6,686.30 L98.6,686.30 L99.6,686.30 L100.6,686.30 L101.6,686.29 L102.6,686.29 L103.6,686.29 L104.6,686.29 L105.6,686.29 L106.6,686.29 L107.6,686.29 L108.6,686.29 L109.6,686.29 L110.6,686.29 L111.6,686.29 L112.6,686.29 L113.6,686.29 L114.6,686.29 L115.6,686.29 L116.6,686.29 L117.6,686.29 L118.6,686.29 L119.6,686.29 L120.6,686.29 L121.6,686.29 L122.6,686.29 L123.6,686.28 L124.6,686.28 L125.6,686.28 L126.6,686.28 L127.6,686.28 L128.6,686.28 L129.6,686.28 L130.6,686.28 L131.6,686.28 L132.6,686.28 L133.6,686.28 L134.6,686.28 L135.6,686.28 L136.6,686.28 L137.6,686.27 L138.6,686.27 L139.6,686.27 L140.6,686.27 L141.6,686.27 L142.6,686.27 L143.6,686.27 L144.6,686.27 L145.6,686.27 L146.6,686.27 L147.6,686.26 L148.6,686.26 L149.6,686.26 L150.6,686.26 L151.6,686.26 L152.6,686.26 L153.6,686.26 L154.6,686.26 L155.6,686.26 L156.6,686.25 L157.6,686.25 L158.6,686.25 L159.6,686.25 L160.6,686.25 L161.6,686.25 L162.6,686.25 L163.6,686.25 L164.6,686.24 L165.6,686.24 L166.6,686.24 L167.6,686.24 L168.6,686.24 L169.6,686.24 L170.6,686.23 L171.6,686.23 L172.6,686.23 L173.6,686.23 L174.6,686.23 L175.6,686.23 L176.6,686.23 L177.6,686.22 L178.6,686.22 L179.6,686.22 L180.6,686.22 L181.6,686.22 L182.6,686.21 L183.6,686.21 L184.6,686.21 L185.6,686.21 L186.6,686.21 L187.6,686.20 L188.6,686.20 L189.6,686.19 L190.6,686.18 L191.6,686.17 L192.6,686.15 L193.6,686.13 L194.6,686.11 L195.6,686.08 L196.6,686.05 L197.6,686.01 L198.6,685.97 L199.6,685.93 L200.6,685.88 L201.6,685.84 L202.6,685.79 L203.6,685.74 L204.6,685.69 L205.6,685.63 L206.6,685.58 L207.6,685.52 L208.6,685.46 L209.6,685.39 L210.6,685.32 L211.6,685.25 L212.6,685.17 L213.6,685.09 L214.6,685.01 L215.6,684.92 L216.6,684.82 L217.6,684.73 L218.6,684.63 L219.6,684.52 L220.6,684.41 L221.6,684.30 L222.6,684.18 L223.6,684.05 L224.6,683.92 L225.6,683.78 L226.6,683.63 L227.6,683.48 L228.6,683.32 L229.6,683.16 L230.6,682.99 L231.6,682.81 L232.6,682.63 L233.6,682.44 L234.6,682.24 L235.6,682.03 L236.6,681.81 L237.6,681.58 L238.6,681.34 L239.6,681.10 L240.6,680.84 L241.6,680.58 L242.6,680.32 L243.6,680.05 L244.6,679.77 L245.6,679.49 L246.6,679.20 L247.6,678.89 L248.6,678.56 L249.6,678.21 L250.6,677.85 L251.6,677.46 L252.6,677.06 L253.6,676.64 L254.6,676.22 L255.6,675.80 L256.6,675.38 L257.6,674.97 L258.6,674.57 L259.6,674.16 L260.6,673.77 L261.6,673.37 L262.6,672.98 L263.6,672.59 L264.6,672.20 L265.6,671.81 L266.6,671.41 L267.6,671.02 L268.6,670.62 L269.6,670.21 L270.6,669.80 L271.6,669.39 L272.6,668.98 L273.6,668.56 L274.6,668.16 L275.6,667.75 L276.6,667.35 L277.6,666.96 L278.6,666.58 L279.6,666.21 L280.6,665.86 L281.6,665.51 L282.6,665.17 L283.6,664.84 L284.6,664.52 L285.6,664.21 L286.6,663.91 L287.6,663.61 L288.6,663.33 L289.6,663.05 L290.6,662.79 L291.6,662.53 L292.6,662.29 L293.6,662.06 L294.6,661.84 L295.6,661.63 L296.6,661.42 L297.6,661.22 L298.6,661.03 L299.6,660.83 L300.6,660.62 L301.6,660.41 L302.6,660.19 L303.6,659.97 L304.6,659.74 L305.6,659.50 L306.6,659.26 L307.6,659.02 L308.6,658.77 L309.6,658.52 L310.6,658.27 L311.6,658.03 L312.6,657.78 L313.6,657.54 L314.6,657.29 L315.6,657.05 L316.6,656.81 L317.6,656.58 L318.6,656.35 L319.6,656.12 L320.6,655.90 L321.6,655.69 L322.6,655.48 L323.6,655.28 L324.6,655.08 L325.6,654.89 L326.6,654.70 L327.6,654.52 L328.6,654.34 L329.6,654.18 L330.6,654.01 L331.6,653.86 L332.6,653.71 L333.6,653.57 L334.6,653.44 L335.6,653.31 L336.6,653.18 L337.6,653.07 L338.6,652.95 L339.6,652.84 L340.6,652.74 L341.6,652.65 L342.6,652.56 L343.6,652.48 L344.6,652.41 L345.6,652.34 L346.6,652.28 L347.6,652.23 L348.6,652.18 L349.6,652.13 L350.6,652.08 L351.6,652.04 L352.6,652.00 L353.6,651.96 L354.6,651.92 L355.6,651.89 L356.6,651.86 L357.6,651.83 L358.6,651.80 L359.6,651.78 L360.6,651.76 L361.6,651.74 L362.6,651.73 L363.6,651.72 L364.6,651.71 L365.6,651.71 L366.6,651.71 L367.6,651.71 L368.6,651.71 L369.6,651.71 L370.6,651.71 L371.6,651.72 L372.6,651.72 L373.6,651.73 L374.6,651.73 L375.6,651.74 L376.6,651.75 L377.6,651.75 L378.6,651.76 L379.6,651.77 L380.6,651.77 L381.6,651.78 L382.6,651.79 L383.6,651.79 L384.6,651.80 L385.6,651.81 L386.6,651.82 L387.6,651.83 L388.6,651.84 L389.6,651.85 L390.6,651.86 L391.6,651.87 L392.6,651.88 L393.6,651.89 L394.6,651.90 L395.6,651.91 L396.6,651.92 L397.6,651.93 L398.6,651.95 L399.6,651.96 L400.6,651.96 L401.6,651.97 L402.6,651.97 L403.6,651.96 L404.6,651.94 L405.6,651.91 L406.6,651.87 L407.6,651.82 L408.6,651.76 L409.6,651.69 L410.6,651.61 L411.6,651.52 L412.6,651.42 L413.6,651.31 L414.6,651.19 L415.6,651.06 L416.6,650.92 L417.6,650.78 L418.6,650.62 L419.6,650.45 L420.6,650.28 L421.6,650.11 L422.6,649.93 L423.6,649.74 L424.6,649.55 L425.6,649.36 L426.6,649.16 L427.6,648.97 L428.6,648.77 L429.6,648.57 L430.6,648.37 L431.6,648.17 L432.6,647.97 L433.6,647.78 L434.6,647.58 L435.6,647.39 L436.6,647.20 L437.6,647.01 L438.6,646.82 L439.6,646.62 L440.6,646.43 L441.6,646.24 L442.6,646.06 L443.6,645.87 L444.6,645.68 L445.6,645.49 L446.6,645.30 L447.6,645.12 L448.6,644.93 L449.6,644.74 L450.6,644.56 L451.6,644.37 L452.6,644.19 L453.6,644.00 L454.6,643.81 L455.6,643.62 L456.6,643.43 L457.6,643.24 L458.6,643.05 L459.6,642.85 L460.6,642.66 L461.6,642.46 L462.6,642.27 L463.6,642.07 L464.6,641.88 L465.6,641.68 L466.6,641.49 L467.6,641.29 L468.6,641.10 L469.6,640.91 L470.6,640.71 L471.6,640.52 L472.6,640.33 L473.6,640.14 L474.6,639.95 L475.6,639.77 L476.6,639.59 L477.6,639.41 L478.6,639.24 L479.6,639.07 L480.6,638.91 L481.6,638.75 L482.6,638.60 L483.6,638.45 L484.6,638.31 L485.6,638.16 L486.6,638.03 L487.6,637.89 L488.6,637.76 L489.6,637.64 L490.6,637.51 L491.6,637.39 L492.6,637.28 L493.6,637.16 L494.6,637.05 L495.6,636.94 L496.6,636.83 L497.6,636.73 L498.6,636.63 L499.6,636.53 L500.6,636.43 L501.6,636.34 L502.6,636.25 L503.6,636.17 L504.6,636.08 L505.3,636.00" fill="none" stroke="#737373" stroke-width="2.2" stroke-linejoin="round"/>
<path d="M64.6,686.30 L65.6,686.30 L66.6,686.29 L67.6,686.29 L68.6,686.28 L69.6,686.28 L70.6,686.27 L71.6,686.27 L72.6,686.26 L73.6,686.25 L74.6,686.24 L75.6,686.23 L76.6,686.22 L77.6,686.21 L78.6,686.19 L79.6,686.18 L80.6,686.16 L81.6,686.14 L82.6,686.12 L83.6,686.09 L84.6,686.07 L85.6,686.04 L86.6,686.01 L87.6,685.98 L88.6,685.94 L89.6,685.91 L90.6,685.87 L91.6,685.84 L92.6,685.80 L93.6,685.76 L94.6,685.72 L95.6,685.68 L96.6,685.63 L97.6,685.59 L98.6,685.54 L99.6,685.49 L100.6,685.44 L101.6,685.39 L102.6,685.33 L103.6,685.27 L104.6,685.20 L105.6,685.13 L106.6,685.06 L107.6,684.98 L108.6,684.90 L109.6,684.81 L110.6,684.72 L111.6,684.62 L112.6,684.51 L113.6,684.40 L114.6,684.28 L115.6,684.16 L116.6,684.03 L117.6,683.89 L118.6,683.74 L119.6,683.59 L120.6,683.43 L121.6,683.26 L122.6,683.08 L123.6,682.90 L124.6,682.70 L125.6,682.50 L126.6,682.29 L127.6,682.06 L128.6,681.83 L129.6,681.58 L130.6,681.32 L131.6,681.05 L132.6,680.76 L133.6,680.46 L134.6,680.13 L135.6,679.79 L136.6,679.42 L137.6,679.04 L138.6,678.63 L139.6,678.19 L140.6,677.74 L141.6,677.26 L142.6,676.75 L143.6,676.22 L144.6,675.66 L145.6,675.08 L146.6,674.48 L147.6,673.85 L148.6,673.20 L149.6,672.53 L150.6,671.84 L151.6,671.12 L152.6,670.37 L153.6,669.60 L154.6,668.80 L155.6,667.97 L156.6,667.11 L157.6,666.22 L158.6,665.30 L159.6,664.34 L160.6,663.34 L161.6,662.31 L162.6,661.25 L163.6,660.15 L164.6,659.01 L165.6,657.83 L166.6,656.62 L167.6,655.36 L168.6,654.07 L169.6,652.74 L170.6,651.36 L171.6,649.94 L172.6,648.47 L173.6,646.94 L174.6,645.36 L175.6,643.72 L176.6,642.02 L177.6,640.26 L178.6,638.44 L179.6,636.55 L180.6,634.61 L181.6,632.61 L182.6,630.57 L183.6,628.47 L184.6,626.34 L185.6,624.16 L186.6,621.96 L187.6,619.72 L188.6,617.46 L189.6,615.16 L190.6,612.84 L191.6,610.48 L192.6,608.09 L193.6,605.67 L194.6,603.20 L195.6,600.70 L196.6,598.16 L197.6,595.59 L198.6,593.01 L199.6,590.41 L200.6,587.81 L201.6,585.22 L202.6,582.64 L203.6,580.09 L204.6,577.57 L205.6,575.07 L206.6,572.60 L207.6,570.14 L208.6,567.71 L209.6,565.29 L210.6,562.88 L211.6,560.48 L212.6,558.09 L213.6,555.70 L214.6,553.33 L215.6,550.97 L216.6,548.62 L217.6,546.30 L218.6,544.00 L219.6,541.72 L220.6,539.48 L221.6,537.26 L222.6,535.06 L223.6,532.90 L224.6,530.76 L225.6,528.64 L226.6,526.54 L227.6,524.47 L228.6,522.41 L229.6,520.38 L230.6,518.36 L231.6,516.37 L232.6,514.41 L233.6,512.48 L234.6,510.59 L235.6,508.74 L236.6,506.94 L237.6,505.19 L238.6,503.49 L239.6,501.83 L240.6,500.22 L241.6,498.66 L242.6,497.14 L243.6,495.65 L244.6,494.19 L245.6,492.76 L246.6,491.36 L247.6,489.99 L248.6,488.64 L249.6,487.31 L250.6,486.02 L251.6,484.75 L252.6,483.51 L253.6,482.30 L254.6,481.12 L255.6,479.98 L256.6,478.87 L257.6,477.79 L258.6,476.74 L259.6,475.72 L260.6,474.73 L261.6,473.78 L262.6,472.85 L263.6,471.95 L264.6,471.08 L265.6,470.23 L266.6,469.41 L267.6,468.62 L268.6,467.86 L269.6,467.12 L270.6,466.41 L271.6,465.73 L272.6,465.08 L273.6,464.45 L274.6,463.85 L275.6,463.27 L276.6,462.72 L277.6,462.19 L278.6,461.69 L279.6,461.20 L280.6,460.74 L281.6,460.30 L282.6,459.87 L283.6,459.47 L284.6,459.08 L285.6,458.71 L286.6,458.35 L287.6,458.01 L288.6,457.69 L289.6,457.38 L290.6,457.09 L291.6,456.81 L292.6,456.55 L293.6,456.29 L294.6,456.06 L295.6,455.83 L296.6,455.62 L297.6,455.42 L298.6,455.24 L299.6,455.06 L300.6,454.90 L301.6,454.74 L302.6,454.60 L303.6,454.46 L304.6,454.33 L305.6,454.21 L306.6,454.09 L307.6,453.98 L308.6,453.88 L309.6,453.78 L310.6,453.69 L311.6,453.60 L312.6,453.51 L313.6,453.43 L314.6,453.34 L315.6,453.27 L316.6,453.19 L317.6,453.12 L318.6,453.05 L319.6,452.99 L320.6,452.92 L321.6,452.86 L322.6,452.81 L323.6,452.76 L324.6,452.71 L325.6,452.67 L326.6,452.64 L327.6,452.61 L328.6,452.58 L329.6,452.56 L330.6,452.55 L331.6,452.54 L332.6,452.54 L333.6,452.54 L334.6,452.55 L335.6,452.56 L336.6,452.58 L337.6,452.60 L338.6,452.63 L339.6,452.66 L340.6,452.70 L341.6,452.75 L342.6,452.80 L343.6,452.86 L344.6,452.92 L345.6,452.98 L346.6,453.05 L347.6,453.13 L348.6,453.21 L349.6,453.29 L350.6,453.38 L351.6,453.47 L352.6,453.57 L353.6,453.67 L354.6,453.77 L355.6,453.89 L356.6,454.00 L357.6,454.13 L358.6,454.25 L359.6,454.39 L360.6,454.53 L361.6,454.68 L362.6,454.83 L363.6,455.00 L364.6,455.16 L365.6,455.34 L366.6,455.53 L367.6,455.73 L368.6,455.93 L369.6,456.15 L370.6,456.38 L371.6,456.62 L372.6,456.87 L373.6,457.13 L374.6,457.41 L375.6,457.70 L376.6,458.00 L377.6,458.32 L378.6,458.65 L379.6,459.00 L380.6,459.36 L381.6,459.74 L382.6,460.13 L383.6,460.55 L384.6,460.98 L385.6,461.44 L386.6,461.92 L387.6,462.42 L388.6,462.94 L389.6,463.49 L390.6,464.07 L391.6,464.66 L392.6,465.29 L393.6,465.93 L394.6,466.60 L395.6,467.28 L396.6,467.99 L397.6,468.72 L398.6,469.46 L399.6,470.22 L400.6,470.99 L401.6,471.78 L402.6,472.59 L403.6,473.41 L404.6,474.24 L405.6,475.09 L406.6,475.95 L407.6,476.83 L408.6,477.72 L409.6,478.63 L410.6,479.54 L411.6,480.47 L412.6,481.40 L413.6,482.35 L414.6,483.30 L415.6,484.26 L416.6,485.22 L417.6,486.20 L418.6,487.17 L419.6,488.15 L420.6,489.14 L421.6,490.12 L422.6,491.11 L423.6,492.10 L424.6,493.09 L425.6,494.08 L426.6,495.06 L427.6,496.04 L428.6,497.02 L429.6,497.99 L430.6,498.96 L431.6,499.92 L432.6,500.87 L433.6,501.81 L434.6,502.74 L435.6,503.66 L436.6,504.57 L437.6,505.47 L438.6,506.36 L439.6,507.24 L440.6,508.11 L441.6,508.96 L442.6,509.80 L443.6,510.62 L444.6,511.42 L445.6,512.19 L446.6,512.95 L447.6,513.68 L448.6,514.39 L449.6,515.07 L450.6,515.72 L451.6,516.35 L452.6,516.95 L453.6,517.53 L454.6,518.08 L455.6,518.61 L456.6,519.11 L457.6,519.60 L458.6,520.07 L459.6,520.53 L460.6,520.97 L461.6,521.39 L462.6,521.81 L463.6,522.22 L464.6,522.61 L465.6,523.00 L466.6,523.38 L467.6,523.76 L468.6,524.13 L469.6,524.50 L470.6,524.86 L471.6,525.21 L472.6,525.56 L473.6,525.90 L474.6,526.24 L475.6,526.57 L476.6,526.89 L477.6,527.21 L478.6,527.53 L479.6,527.84 L480.6,528.15 L481.6,528.45 L482.6,528.76 L483.6,529.06 L484.6,529.36 L485.6,529.66 L486.6,529.96 L487.6,530.26 L488.6,530.57 L489.6,530.87 L490.6,531.18 L491.6,531.49 L492.6,531.80 L493.6,532.12 L494.6,532.43 L495.6,532.75 L496.6,533.06 L497.6,533.38 L498.6,533.69 L499.6,534.01 L500.6,534.32 L501.6,534.62 L502.6,534.93 L503.6,535.22 L504.6,535.52 L505.6,535.81 L505.7,536.10" fill="none" stroke="#071668" stroke-width="2.2" stroke-linejoin="round"/>
<path d="M64.6,686.30 L65.6,686.30 L66.6,686.30 L67.6,686.30 L68.6,686.30 L69.6,686.30 L70.6,686.30 L71.6,686.30 L72.6,686.30 L73.6,686.30 L74.6,686.30 L75.6,686.30 L76.6,686.30 L77.6,686.30 L78.6,686.30 L79.6,686.30 L80.6,686.30 L81.6,686.30 L82.6,686.30 L83.6,686.30 L84.6,686.30 L85.6,686.30 L86.6,686.30 L87.6,686.30 L88.6,686.30 L89.6,686.30 L90.6,686.30 L91.6,686.30 L92.6,686.30 L93.6,686.30 L94.6,686.30 L95.6,686.30 L96.6,686.30 L97.6,686.30 L98.6,686.30 L99.6,686.30 L100.6,686.30 L101.6,686.30 L102.6,686.30 L103.6,686.30 L104.6,686.30 L105.6,686.30 L106.6,686.30 L107.6,686.30 L108.6,686.30 L109.6,686.30 L110.6,686.30 L111.6,686.30 L112.6,686.30 L113.6,686.30 L114.6,686.30 L115.6,686.30 L116.6,686.30 L117.6,686.30 L118.6,686.30 L119.6,686.30 L120.6,686.30 L121.6,686.30 L122.6,686.30 L123.6,686.30 L124.6,686.30 L125.6,686.30 L126.6,686.30 L127.6,686.30 L128.6,686.30 L129.6,686.30 L130.6,686.30 L131.6,686.30 L132.6,686.30 L133.6,686.30 L134.6,686.30 L135.6,686.30 L136.6,686.30 L137.6,686.29 L138.6,686.29 L139.6,686.29 L140.6,686.29 L141.6,686.29 L142.6,686.29 L143.6,686.29 L144.6,686.29 L145.6,686.29 L146.6,686.29 L147.6,686.29 L148.6,686.29 L149.6,686.29 L150.6,686.29 L151.6,686.29 L152.6,686.29 L153.6,686.29 L154.6,686.29 L155.6,686.29 L156.6,686.29 L157.6,686.29 L158.6,686.29 L159.6,686.29 L160.6,686.29 L161.6,686.29 L162.6,686.29 L163.6,686.29 L164.6,686.29 L165.6,686.29 L166.6,686.29 L167.6,686.29 L168.6,686.29 L169.6,686.29 L170.6,686.29 L171.6,686.29 L172.6,686.29 L173.6,686.29 L174.6,686.29 L175.6,686.29 L176.6,686.29 L177.6,686.29 L178.6,686.28 L179.6,686.28 L180.6,686.28 L181.6,686.28 L182.6,686.28 L183.6,686.28 L184.6,686.28 L185.6,686.28 L186.6,686.28 L187.6,686.28 L188.6,686.28 L189.6,686.28 L190.6,686.28 L191.6,686.28 L192.6,686.28 L193.6,686.28 L194.6,686.28 L195.6,686.28 L196.6,686.28 L197.6,686.28 L198.6,686.28 L199.6,686.28 L200.6,686.28 L201.6,686.28 L202.6,686.28 L203.6,686.28 L204.6,686.27 L205.6,686.27 L206.6,686.27 L207.6,686.27 L208.6,686.27 L209.6,686.27 L210.6,686.27 L211.6,686.27 L212.6,686.27 L213.6,686.27 L214.6,686.27 L215.6,686.27 L216.6,686.27 L217.6,686.27 L218.6,686.27 L219.6,686.27 L220.6,686.27 L221.6,686.27 L222.6,686.27 L223.6,686.26 L224.6,686.26 L225.6,686.26 L226.6,686.26 L227.6,686.26 L228.6,686.26 L229.6,686.26 L230.6,686.26 L231.6,686.26 L232.6,686.26 L233.6,686.26 L234.6,686.26 L235.6,686.26 L236.6,686.26 L237.6,686.26 L238.6,686.26 L239.6,686.25 L240.6,686.25 L241.6,686.25 L242.6,686.25 L243.6,686.25 L244.6,686.25 L245.6,686.25 L246.6,686.25 L247.6,686.25 L248.6,686.25 L249.6,686.25 L250.6,686.25 L251.6,686.25 L252.6,686.25 L253.6,686.24 L254.6,686.24 L255.6,686.24 L256.6,686.24 L257.6,686.24 L258.6,686.24 L259.6,686.24 L260.6,686.24 L261.6,686.24 L262.6,686.24 L263.6,686.24 L264.6,686.24 L265.6,686.23 L266.6,686.23 L267.6,686.23 L268.6,686.23 L269.6,686.23 L270.6,686.23 L271.6,686.23 L272.6,686.23 L273.6,686.23 L274.6,686.23 L275.6,686.23 L276.6,686.22 L277.6,686.22 L278.6,686.22 L279.6,686.22 L280.6,686.22 L281.6,686.22 L282.6,686.22 L283.6,686.22 L284.6,686.22 L285.6,686.22 L286.6,686.21 L287.6,686.21 L288.6,686.21 L289.6,686.21 L290.6,686.21 L291.6,686.21 L292.6,686.21 L293.6,686.21 L294.6,686.21 L295.6,686.20 L296.6,686.20 L297.6,686.20 L298.6,686.20 L299.6,686.19 L300.6,686.19 L301.6,686.18 L302.6,686.17 L303.6,686.16 L304.6,686.14 L305.6,686.13 L306.6,686.11 L307.6,686.09 L308.6,686.06 L309.6,686.04 L310.6,686.01 L311.6,685.98 L312.6,685.95 L313.6,685.92 L314.6,685.89 L315.6,685.86 L316.6,685.83 L317.6,685.79 L318.6,685.76 L319.6,685.73 L320.6,685.70 L321.6,685.66 L322.6,685.63 L323.6,685.60 L324.6,685.56 L325.6,685.53 L326.6,685.49 L327.6,685.45 L328.6,685.41 L329.6,685.36 L330.6,685.32 L331.6,685.26 L332.6,685.21 L333.6,685.15 L334.6,685.08 L335.6,685.00 L336.6,684.92 L337.6,684.83 L338.6,684.74 L339.6,684.65 L340.6,684.55 L341.6,684.44 L342.6,684.34 L343.6,684.24 L344.6,684.14 L345.6,684.04 L346.6,683.93 L347.6,683.82 L348.6,683.71 L349.6,683.58 L350.6,683.45 L351.6,683.30 L352.6,683.14 L353.6,682.96 L354.6,682.77 L355.6,682.57 L356.6,682.36 L357.6,682.14 L358.6,681.92 L359.6,681.69 L360.6,681.46 L361.6,681.22 L362.6,680.97 L363.6,680.72 L364.6,680.46 L365.6,680.20 L366.6,679.93 L367.6,679.64 L368.6,679.35 L369.6,679.05 L370.6,678.73 L371.6,678.40 L372.6,678.05 L373.6,677.69 L374.6,677.31 L375.6,676.92 L376.6,676.51 L377.6,676.09 L378.6,675.65 L379.6,675.21 L380.6,674.74 L381.6,674.27 L382.6,673.78 L383.6,673.27 L384.6,672.76 L385.6,672.23 L386.6,671.69 L387.6,671.15 L388.6,670.60 L389.6,670.05 L390.6,669.49 L391.6,668.93 L392.6,668.35 L393.6,667.75 L394.6,667.12 L395.6,666.46 L396.6,665.77 L397.6,665.04 L398.6,664.29 L399.6,663.52 L400.6,662.73 L401.6,661.93 L402.6,661.12 L403.6,660.29 L404.6,659.45 L405.6,658.60 L406.6,657.74 L407.6,656.88 L408.6,656.03 L409.6,655.18 L410.6,654.33 L411.6,653.47 L412.6,652.60 L413.6,651.69 L414.6,650.76 L415.6,649.81 L416.6,648.83 L417.6,647.84 L418.6,646.85 L419.6,645.87 L420.6,644.90 L421.6,643.93 L422.6,642.98 L423.6,642.05 L424.6,641.12 L425.6,640.20 L426.6,639.30 L427.6,638.40 L428.6,637.52 L429.6,636.66 L430.6,635.83 L431.6,635.02 L432.6,634.25 L433.6,633.50 L434.6,632.80 L435.6,632.12 L436.6,631.48 L437.6,630.86 L438.6,630.28 L439.6,629.72 L440.6,629.19 L441.6,628.69 L442.6,628.20 L443.6,627.74 L444.6,627.28 L445.6,626.83 L446.6,626.39 L447.6,625.95 L448.6,625.51 L449.6,625.08 L450.6,624.65 L451.6,624.22 L452.6,623.81 L453.6,623.40 L454.6,623.01 L455.6,622.63 L456.6,622.27 L457.6,621.93 L458.6,621.61 L459.6,621.30 L460.6,621.01 L461.6,620.73 L462.6,620.46 L463.6,620.20 L464.6,619.95 L465.6,619.71 L466.6,619.48 L467.6,619.25 L468.6,619.03 L469.6,618.81 L470.6,618.61 L471.6,618.40 L472.6,618.20 L473.6,618.01 L474.6,617.82 L475.6,617.64 L476.6,617.46 L477.6,617.29 L478.6,617.13 L479.6,616.97 L480.6,616.81 L481.6,616.67 L482.6,616.53 L483.6,616.39 L484.6,616.26 L485.6,616.13 L486.6,616.00 L487.6,615.88 L488.6,615.75 L489.6,615.63 L490.6,615.51 L491.6,615.38 L492.6,615.26 L493.6,615.13 L494.6,615.00 L495.6,614.87 L496.6,614.74 L497.6,614.61 L498.6,614.48 L499.6,614.35 L500.6,614.22 L501.6,614.10 L502.6,613.97 L503.6,613.84 L504.6,613.72 L505.3,613.60" fill="none" stroke="#6a22aa" stroke-width="1.9" stroke-linejoin="round"/>
<text x="116.8" y="51" class="lbl">L<tspan dx="1.4" dy="-0.6">²</tspan><tspan dx="0.8" dy="0.6">(15)</tspan></text>
<text x="273.3" y="83.3" class="lab" fill="#071668" textLength="138.5" lengthAdjust="spacingAndGlyphs">Cu(II) complexes</text>
<text x="244.6" y="282.3" class="labm" fill="#737373" stroke="#737373" textLength="136.5" lengthAdjust="spacingAndGlyphs">Zn(II) complexes</text>
<text x="345.3" y="247.2" class="lab" fill="#6a22aa" textLength="181.5" lengthAdjust="spacingAndGlyphs">Cu(II)Zn(II) complexes</text>
<path d="M462.6,254.3 L500.3,293" stroke="#6a22aa" stroke-width="2.5" fill="none" stroke-linecap="round"/>
<path d="M492.1,290.3 L500.3,293 L498.6,284.8" stroke="#6a22aa" stroke-width="2.5" fill="none" stroke-linecap="round" stroke-linejoin="miter"/>
<line x1="418.6" y1="41.2" x2="418.0" y2="313.1" stroke="#ff0000" stroke-width="1.9"/>
<line x1="312.5" y1="424.9" x2="311.7" y2="697.0" stroke="#ff0000" stroke-width="1.9"/>
<text x="463.2" y="355.4" class="ph">pH</text>
<text x="463.2" y="737.2" class="ph">pH</text>
<text transform="translate(23.8,234.5) rotate(-90)" class="yti">L²(15) molar fraction</text>
<text transform="translate(23.8,616.5) rotate(-90)" class="yti">L³(16) molar fraction</text>
<text x="93.2" y="441.9" class="lbl">L<tspan dx="1.4" dy="-0.6">³</tspan><tspan dx="0.8" dy="0.6">(16)</tspan></text>
<text x="341.3" y="442.7" class="lab" fill="#071668" textLength="138.5" lengthAdjust="spacingAndGlyphs">Cu(II) complexes</text>
<text x="268.0" y="644.8" class="labr" fill="#737373" stroke="#737373" textLength="136.2" lengthAdjust="spacingAndGlyphs">Zn(II) complexes</text>
<text x="335.6" y="600.6" class="lab" fill="#6a22aa" textLength="182" lengthAdjust="spacingAndGlyphs">Cu(II)Zn(II) complexes</text>
<text x="261.0" y="387.6" class="cap" textLength="22" lengthAdjust="spacingAndGlyphs">(a)</text>
<text x="260.1" y="768.4" class="cap" textLength="24.2" lengthAdjust="spacingAndGlyphs">(b)</text>
</svg>
</body></html>
